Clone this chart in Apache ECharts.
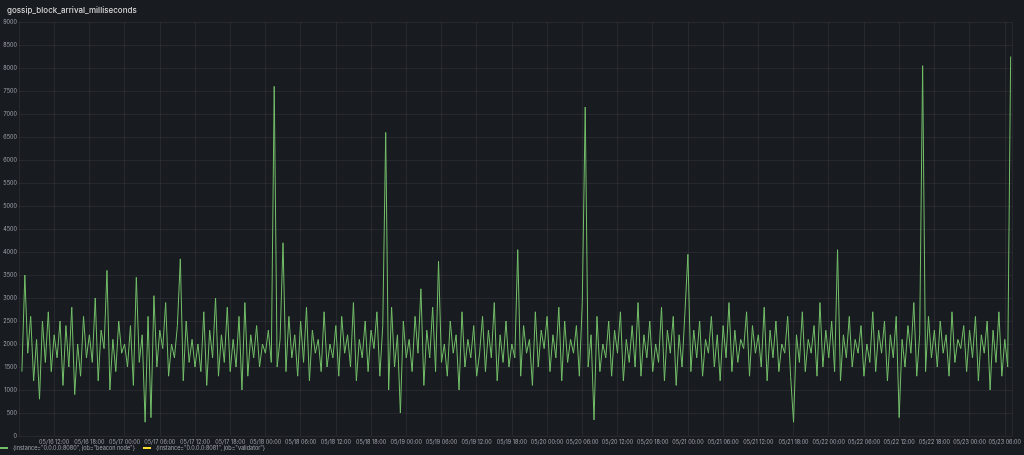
<!DOCTYPE html>
<html><head><meta charset="utf-8">
<script src="https://cdn.jsdelivr.net/npm/echarts@6/dist/echarts.min.js"></script>
<style>html,body{margin:0;background:#181b1f}#c{width:1024px;height:455px}</style>
</head><body><div id="c"></div>
<script>
const title = 'gossip_block_arrival_milliseconds';
const seriesNames = ['{instance="0.0.0.0:8080", job="beacon node"}', '{instance="0.0.0.0:8081", job="validator"}'];
const startHourOffset = 0.5; // hours after 05/16 06:00
const stepHours = 0.5;
const beaconValues = [
1400,3500,1800,2600,1200,2100,800,2500,1600,2700,1400,2200,
1700,2500,1100,2400,1500,2800,900,2000,1300,2600,1700,2200,
1600,3000,1200,2300,1900,3600,1000,2100,1400,2500,1800,2000,
1500,2400,1100,3450,1600,2200,300,2600,400,3050,1500,2300,
1900,2900,1300,2000,1700,2400,3850,1200,2500,1600,2100,1500,
2000,1400,2700,1100,2300,1700,3000,1300,2200,1600,2800,1400,
2100,1500,2600,1000,2900,1300,2200,1700,2400,1500,2000,1800,
2300,1600,7600,1500,2100,4200,1400,2600,1700,2200,1300,2500,
1600,2800,1200,2300,1800,2100,1400,2700,1500,2000,1700,2400,
1300,2600,1800,2200,1500,2900,1200,2100,1700,2500,1400,2300,
1900,2700,1300,2400,6600,1000,2800,1500,2200,500,2500,1700,
2100,1400,2600,1800,3200,1100,2300,1700,2800,1400,3800,1600,
2000,1300,2500,1800,2200,1000,2700,1500,2100,1700,2400,1300,
1800,2600,1400,2300,1700,2900,1200,2200,1600,2500,1500,2000,
1700,4050,1300,2400,1800,2100,1100,2700,1500,2300,1900,2600,
1400,2200,1700,2800,1200,2500,1600,2100,1800,2400,1300,2900,
7150,1500,2200,350,2600,1400,2000,1700,2500,1300,2300,1800,
2700,1200,2100,1600,2400,1500,2900,1300,2200,1700,2500,1400,
2000,1600,2800,1200,2300,1800,2600,1100,2200,1500,2700,3950,
1400,2300,1700,2500,1300,2100,1800,2600,1500,2200,1200,2400,
1700,2900,1400,2300,1600,2100,1900,2700,1300,2400,1800,2200,
1500,2800,1200,2300,1700,2500,1400,2000,1800,2600,1300,300,
2200,1600,2700,1400,2100,1800,2400,1300,2900,1500,2300,1700,
2500,1400,4050,1200,2200,1700,2600,1500,2100,1800,2400,1300,
2000,1600,2700,1400,2300,1800,2500,1200,2200,1700,2600,400,
2100,1500,2400,1800,2900,1300,2200,8050,1400,2600,1700,2300,
1500,2500,1800,2200,1300,2700,1600,2100,1900,2400,1400,2300,
1700,2600,1200,2200,1800,2500,1000,2300,1600,2700,1300,2100,
1500,8250
];
const validatorValues = [];
const pad = n => String(n).padStart(2, '0');
function fmt(h) {
  const total = 6 + h; // hours since 05/16 00:00
  const day = 16 + Math.floor(total / 24);
  const hr = Math.round(total % 24);
  return '05/' + pad(day) + ' ' + pad(hr) + ':00';
}
const beaconData = beaconValues.map((v, i) => [startHourOffset + i * stepHours, v]);
const txt = 'rgba(204,204,220,0.75)';
const grid = 'rgba(204,204,220,0.08)';
const chart = echarts.init(document.getElementById('c'));
chart.setOption({
  backgroundColor: '#181b1f',
  animation: false,
  title: { text: title, left: 2, top: 2, textStyle: { color: '#d8d9da', fontSize: 8, fontWeight: 500, fontFamily: 'Inter' } },
  legend: {
    left: 0, top: 445, itemWidth: 8, itemHeight: 2, itemGap: 8, icon: 'rect', padding: 0,
    textStyle: { color: txt, fontSize: 5.5, fontFamily: 'Inter' },
    data: seriesNames
  },
  grid: { left: 15, right: 4, top: 22, bottom: 19 },
  xAxis: {
    type: 'value', min: 0, max: 169.3, interval: 6,
    axisLine: { show: false }, axisTick: { show: false },
    splitLine: { lineStyle: { color: grid } },
    axisLabel: { color: txt, fontSize: 5.5, fontFamily: 'Inter', margin: 3, showMinLabel: false, hideOverlap: false,
      formatter: v => v === 0 ? '' : fmt(v) }
  },
  yAxis: {
    type: 'value', min: 0, max: 9000, interval: 500,
    axisLine: { show: false }, axisTick: { show: false },
    splitLine: { lineStyle: { color: grid } },
    axisLabel: { color: txt, fontSize: 5.5, fontFamily: 'Inter', margin: 2, formatter: v => String(v) }
  },
  series: [
    { name: seriesNames[0], type: 'line', data: beaconData, showSymbol: false, color: '#73bf69',
      lineStyle: { width: 1, color: '#73bf69' } },
    { name: seriesNames[1], type: 'line', data: validatorValues, showSymbol: false, color: '#fade2a',
      lineStyle: { width: 1 } }
  ]
});
</script></body></html>
